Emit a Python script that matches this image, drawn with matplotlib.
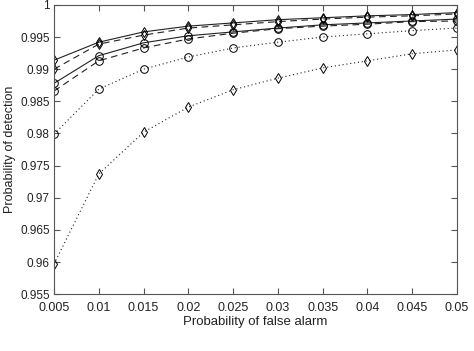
import matplotlib
matplotlib.use("Agg")
import matplotlib.pyplot as plt

plt.rcParams['font.family'] = ['Liberation Sans', 'DejaVu Sans']

pfa = [0.005, 0.01, 0.015, 0.02, 0.025, 0.03, 0.035, 0.04, 0.045, 0.05]

solid_diamond = [0.9914, 0.9942, 0.9958, 0.9967, 0.9972, 0.9977, 0.9980, 0.9983, 0.9985, 0.9988]
dashed_diamond = [0.9900, 0.9939, 0.9953, 0.9964, 0.9969, 0.9974, 0.9978, 0.9981, 0.9983, 0.9986]
solid_circle = [0.9878, 0.9921, 0.9941, 0.9952, 0.9958, 0.9964, 0.9969, 0.9972, 0.9975, 0.9978]
dashed_circle = [0.9866, 0.9913, 0.9933, 0.9947, 0.9956, 0.9963, 0.9967, 0.9970, 0.9974, 0.9975]
dotted_circle = [0.9799, 0.9869, 0.9900, 0.9919, 0.9933, 0.9942, 0.9950, 0.9955, 0.9960, 0.9964]
dotted_diamond = [0.9597, 0.9737, 0.9802, 0.9841, 0.9868, 0.9886, 0.9902, 0.9913, 0.9924, 0.9930]

yticks = [0.955, 0.96, 0.965, 0.97, 0.975, 0.98, 0.985, 0.99, 0.995, 1.0]
ytick_labels = ['0.955', '0.96', '0.965', '0.97', '0.975', '0.98', '0.985', '0.99', '0.995', '1']
xtick_labels = ['0.005', '0.01', '0.015', '0.02', '0.025', '0.03', '0.035', '0.04', '0.045', '0.05']

fig = plt.figure(figsize=(4.74, 3.51), dpi=100)
ax = fig.add_axes([0.114, 0.162, 0.850, 0.824])

mk = dict(markerfacecolor='none', markeredgecolor='black', markeredgewidth=0.7,
          color='#222222', linewidth=0.8)
dots = (0, (1, 2.5))
ax.plot(pfa, solid_diamond, '-', marker='d', markersize=5.5, **mk)
ax.plot(pfa, dashed_diamond, linestyle=(0, (6, 4)), marker='d', markersize=5.5, **mk)
ax.plot(pfa, solid_circle, '-', marker='o', markersize=5.5, **mk)
ax.plot(pfa, dashed_circle, linestyle=(0, (6, 4)), marker='o', markersize=5.5, **mk)
ax.plot(pfa, dotted_circle, linestyle=dots, marker='o', markersize=5.5, **mk)
ax.plot(pfa, dotted_diamond, linestyle=dots, marker='d', markersize=5.5, **mk)

ax.set_xlim(0.005, 0.05)
ax.set_ylim(0.955, 1.0)
ax.set_xticks(pfa)
ax.set_xticklabels(xtick_labels, fontsize=9)
ax.set_yticks(yticks)
ax.set_yticklabels(ytick_labels, fontsize=8.5)
ax.tick_params(direction='in', top=True, right=True, length=4,
               color='#555555', labelcolor='#222222')
ax.tick_params(axis='x', pad=6)
ax.tick_params(axis='y', pad=3)
for s in ax.spines.values():
    s.set_color('#555555')
    s.set_linewidth(0.8)

ax.set_xlabel('Probability of false alarm', fontsize=9.5, labelpad=1, color='#222222')
ax.set_ylabel('Probability of detection', fontsize=9, color='#222222')
ax.yaxis.set_label_coords(-0.095, 0.5)

fig.savefig('out.png', dpi=100)
